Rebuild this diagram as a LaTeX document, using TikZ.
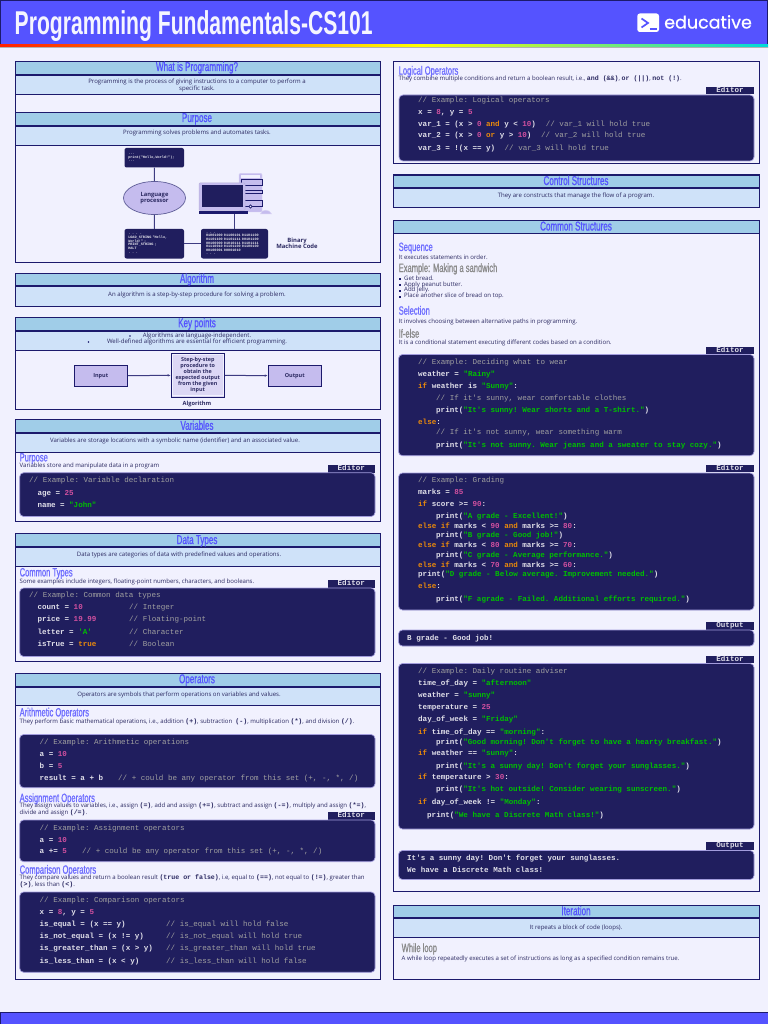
\documentclass[tikz,border=0pt]{standalone}
\usepackage{fontspec}
\usepackage{amsmath}
\setmainfont{Open Sans}
\setmonofont{Liberation Mono}
\newfontfamily\headfont[FakeStretch=0.63,FakeBold=0.9]{Liberation Sans}
\newfontfamily\bigfont[FakeStretch=0.64]{Liberation Sans}
\newfontfamily\logofont[FakeBold=0.5]{Poppins}
\usetikzlibrary{arrows.meta,shapes.geometric}
\definecolor{pagebg}{HTML}{F1F1FE}
\definecolor{headblue}{HTML}{5553FF}
\definecolor{navy}{HTML}{1C1A6C}
\definecolor{titleband}{HTML}{A0CDE8}
\definecolor{descband}{HTML}{CFE2F9}
\definecolor{codebg}{HTML}{201E5E}
\definecolor{codeedge}{HTML}{A29CDC}
\definecolor{lilac}{HTML}{C5BCEE}
\definecolor{bodyink}{HTML}{2C2A62}
\definecolor{greyhead}{HTML}{8A8A8A}
\definecolor{kwcol}{HTML}{E8890C}
\definecolor{numcol}{HTML}{D0509F}
\definecolor{strcol}{HTML}{00C000}
\definecolor{cmtcol}{HTML}{A0A0A0}
\newcommand{\kwd}[1]{\textcolor{kwcol}{#1}}
\newcommand{\nmb}[1]{\textcolor{numcol}{#1}}
\newcommand{\strg}[1]{\textcolor{strcol}{#1}}
\newcommand{\cmnt}[1]{\textcolor{cmtcol}{\mdseries #1}}
\newcommand{\cd}[1]{{\ttfamily\bfseries\fontsize{6.6}{5.3}\selectfont #1}}
\tikzset{
  panel/.style = {draw = navy, line width = 1pt, fill = pagebg},
  bandtitle/.style = {draw = navy, line width = 0.8pt, fill = titleband},
  banddesc/.style = {draw = navy, line width = 0.8pt, fill = descband},
  codebox/.style = {draw = codeedge, line width = 0.7pt, fill = codebg, rounded corners = 4pt},
  tabbox/.style = {draw = none, fill = codebg},
  paneltitle/.style = {font = \headfont\fontsize{12.8}{14}\selectfont, text = headblue, anchor = base, inner sep = 0pt, yshift = -4.5pt},
  subhead/.style = {font = \headfont\fontsize{12}{13}\selectfont, text = headblue!85!white, anchor = base west, inner sep = 0pt, yshift = -3.7pt},
  greyhd/.style = {subhead, text = greyhead},
  desc/.style = {font = \fontsize{6.05}{6}\selectfont, text = bodyink, anchor = base, inner sep = 0pt, yshift = -2pt},
  body/.style = {desc, anchor = base west},
  para/.style = {font = \fontsize{6.05}{5.3}\selectfont, text = bodyink, anchor = west, inner sep = 0pt, align = left},
  codeline/.style = {font = \ttfamily\bfseries\fontsize{7.55}{8}\selectfont, text = white!86!codebg, anchor = base west, inner sep = 0pt, yshift = -2pt},
  tablabel/.style = {codeline, anchor = base},
  tinybox/.style = {draw = none, fill = codebg, rounded corners = 2pt, font = \ttfamily\bfseries\fontsize{3.5}{3.65}\selectfont, text = white!90!codebg, align = left, inner sep = 0pt},
  flowbox/.style = {draw = navy, line width = 1pt, fill = lilac, font = \bfseries\fontsize{5.5}{6}\selectfont, text = bodyink, inner sep = 0pt, minimum width = 53pt, minimum height = 20.5pt},
  link/.style = {draw = navy!85!white, line width = 1pt},
  flowarrow/.style = {link, -{Latex[length = 3pt, width = 2.5pt]}},
  figtext/.style = {font = \bfseries\fontsize{5.9}{6}\selectfont, text = bodyink, align = center, inner sep = 0pt}
}
\begin{document}
\begin{tikzpicture}[x = 1pt, y = -1pt]
\useasboundingbox (0,0) rectangle (768,1024);
\fill [pagebg] (0,0) rectangle (768,1024);

\fill [headblue] (0,0) rectangle (768,44.5);
\draw [navy, line width = 1pt] (0.5,44.5) -- (0.5,0.5) -- (767.5,0.5) -- (767.5,44.5);
\fill [left color = red!75!orange, right color = yellow] (0,44.5) rectangle (420,47.3);
\fill [left color = yellow, right color = cyan!70!teal] (420,44.5) rectangle (768,47.3);
\draw [gray!60, line width = 0.6pt] (0,47.8) -- (768,47.8);
\node (maintitle) [font = \bigfont\bfseries\fontsize{33}{34}\selectfont, text = white!94!headblue, anchor = base west, inner sep = 0pt] at (14.5,35) {Programming Fundamentals-CS101};
\fill [white, rounded corners = 2.5pt] (637.3,13.5) rectangle (659,32);
\draw [headblue, line width = 1.7pt] (641.5,18.5) -- (648,23) -- (641.5,27.5);
\draw [headblue, line width = 1.5pt] (649.5,29) -- (656.5,29);
\node (logoword) [font = \logofont\fontsize{17.5}{20}\selectfont, text = white, anchor = base west, inner sep = 0pt] at (664,28.5) {educative};

\fill [headblue] (0,1012.5) rectangle (768,1024);
\draw [navy, line width = 0.8pt] (0.4,1024) -- (0.4,1012.5) -- (768,1012.5);

\draw [panel] (15,61.5) rectangle (380.5,262.5);
\draw [bandtitle] (15,61.5) rectangle (380.5,74);
\draw [banddesc] (15,75) rectangle (380.5,94.5);
\node (whattitle) [paneltitle] at (197,66.5) {What is Programming?};
\node (whatdesc) [desc, anchor = center, yshift = 0pt, align = center] at (197,83) {Programming is the process of giving instructions to a computer to perform a\\specific task.};
\draw [bandtitle] (15,112.5) rectangle (380.5,125);
\draw [banddesc] (15,126) rectangle (380.5,145.5);
\node (purptitle) [paneltitle] at (197,117.5) {Purpose};
\node (purpdesc) [desc] at (197,132.5) {Programming solves problems and automates tasks.};

\node (srcbox) [tinybox, minimum width = 59.5pt, minimum height = 19.5pt, text width = 52pt] at (154.25,157.75) {...\\print("Hello,World!");\\...};
\node (langproc) [ellipse, draw = navy!70!white, line width = 0.7pt, fill = lilac, minimum width = 62pt, minimum height = 33pt, inner sep = 0pt, font = \bfseries\fontsize{5.8}{6.6}\selectfont, text = bodyink, align = center] at (154.5,198) {Language\\processor};
\node (asmbox) [tinybox, minimum width = 59.5pt, minimum height = 29.5pt, text width = 52pt] at (154.25,243.75) {. . . .\\LOAD\_STRING "Hello,\\World!" ;\\PRINT\_STRING ;\\HALT\\. . .};
\node (binbox) [tinybox, minimum width = 67pt, minimum height = 29.5pt, text width = 57pt] at (234.5,243.75) {. . .\\01001000 01100101 01101100\\01101100 01101111 00101100\\00100000 01010111 01101111\\01110010 01101100 01100100\\00100001 00001010\\. . .};
\node (binlabel) [figtext] at (297,243.5) {Binary\\Machine Code};
\coordinate (pcfoot) at (234.5,214);
\draw [link] (srcbox) -- (langproc);
\draw [link] (langproc) -- (asmbox);
\draw [link] (asmbox) -- (binbox);
\draw [link] (pcfoot) -- (binbox);

\draw [fill = lilac, draw = lilac!70!white, rounded corners = 1pt] (239,173.5) rectangle (262,212);
\fill [pagebg] (241,175.5) rectangle (260,178);
\draw [navy, fill = lilac, line width = 0.7pt] (241.5,179) rectangle (262,185);
\draw [navy, fill = lilac, line width = 0.7pt] (244,190.5) rectangle (262,193);
\draw [navy, fill = lilac, line width = 0.7pt] (243,200) rectangle (262,206);
\draw [navy, fill = pagebg, line width = 0.7pt] (250.5,206.5) circle (1.6pt);
\draw [fill = lilac, draw = lilac!70!white, line width = 0.5pt] (260.5,214) .. controls (261,209) and (270,209) .. (271.5,214) -- cycle;
\draw [fill = lilac, draw = lilac!80!gray, rounded corners = 1pt, line width = 0.5pt] (199,183) rectangle (245,210.5);
\fill [codebg] (202,185) rectangle (243,207);
\fill [navy] (198.5,211.5) rectangle (248,214);
\fill [lilac] (217,208) rectangle (227,210.5);

\draw [panel] (15,273.3) rectangle (380.5,306);
\draw [bandtitle] (15,273.3) rectangle (380.5,285.7);
\draw [banddesc] (15,286.7) rectangle (380.5,306);
\node (algotitle) [paneltitle] at (197,278.3) {Algorithm};
\node (algodesc) [desc] at (197,294.5) {An algorithm is a step-by-step procedure for solving a problem.};

\draw [panel] (15,317.3) rectangle (380.5,409.3);
\draw [bandtitle] (15,317.3) rectangle (380.5,330);
\draw [banddesc] (15,331) rectangle (380.5,350.3);
\node (keytitle) [paneltitle] at (197,322.7) {Key points};
\node (keyone) [desc] at (197,335.3) {Algorithms are language-independent.};
\node (keytwo) [desc] at (197,341.3) {Well-defined algorithms are essential for efficient programming.};
\fill [navy] (130,336) circle (0.8pt);
\fill [navy] (88.5,342) circle (0.8pt);
\node (inputbox) [flowbox] at (100.75,375.75) {Input};
\node (stepbox) [flowbox, fill = lilac!60!white, minimum width = 53pt, minimum height = 43.5pt, align = center, font = \bfseries\fontsize{5.4}{6}\selectfont] at (197.75,375.25) {Step-by-step\\procedure to\\obtain the\\expected output\\from the given\\input};
\draw [pagebg, line width = 0.8pt] (172.2,354.7) rectangle (223.3,395.8);
\node (outputbox) [flowbox] at (294.75,375.75) {Output};
\node (algolabel) [desc, font = \bfseries\fontsize{5.7}{6}\selectfont] at (197,403) {Algorithm};
\draw [flowarrow] (inputbox) -- (stepbox);
\draw [flowarrow] (stepbox) -- (outputbox);

\draw [panel] (15,419.7) rectangle (380.5,521.3);
\draw [bandtitle] (15,419.7) rectangle (380.5,432.3);
\draw [banddesc] (15,433.3) rectangle (380.5,452);
\node (vartitle) [paneltitle] at (197,425.3) {Variables};
\node (vardesc) [desc] at (175,440) {Variables are storage locations with a symbolic name (identifier) and an associated value.};
\node (varhead) [subhead] at (19.5,457.7) {Purpose};
\node (vartext) [body] at (19.5,465.7) {Variables store and manipulate data in a program};
\draw [tabbox] (327.7,465.3) rectangle (375,472.7);
\node (vartab) [tablabel] at (351.3,468.7) {Editor};
\draw [codebox] (19.7,472.7) rectangle (375,516.5);
\node (varcode1) [codeline] at (29,480.3) {\cmnt{// Example: Variable declaration}};
\node (varcode2) [codeline] at (37.3,493) {age = \nmb{25}};
\node (varcode3) [codeline] at (37.3,505) {name = \strg{"John"}};

\draw [panel] (15,533.3) rectangle (380.5,661.3);
\draw [bandtitle] (15,533.3) rectangle (380.5,546);
\draw [banddesc] (15,547) rectangle (380.5,566.3);
\node (typetitle) [paneltitle] at (197,539.5) {Data Types};
\node (typedesc) [desc] at (179,554.7) {Data types are categories of data with predefined values and operations.};
\node (typehead) [subhead] at (19.5,572.7) {Common Types};
\node (typetext) [body] at (19.5,581.3) {Some examples include integers, floating-point numbers, characters, and booleans.};
\draw [tabbox] (327.7,579.5) rectangle (375,587.5);
\node (typetab) [tablabel] at (351.3,583.4) {Editor};
\draw [codebox] (19.7,588) rectangle (375,656.5);
\node (typecode1) [codeline] at (29,595.7) {\cmnt{// Example: Common data types}};
\node (typecode2) [codeline] at (37.3,607.5) {count = \nmb{10}};
\node (typecode3) [codeline] at (37.3,619.5) {price = \nmb{19.99}};
\node (typecode4) [codeline] at (37.3,632) {letter = \strg{'A'}};
\node (typecode5) [codeline] at (37.3,644.7) {isTrue = \kwd{true}};
\node (typenote2) [codeline] at (129,607.5) {\cmnt{// Integer}};
\node (typenote3) [codeline] at (129,619.5) {\cmnt{// Floating-point}};
\node (typenote4) [codeline] at (129,632) {\cmnt{// Character}};
\node (typenote5) [codeline] at (129,644.7) {\cmnt{// Boolean}};

\draw [panel] (15,673.3) rectangle (380.5,979.3);
\draw [bandtitle] (15,673.3) rectangle (380.5,686);
\draw [banddesc] (15,687) rectangle (380.5,705.3);
\node (optitle) [paneltitle] at (197,678.7) {Operators};
\node (opdesc) [desc] at (179,694) {Operators are symbols that perform operations on variables and values.};
\node (arithhead) [subhead] at (19.5,712.7) {Arithmetic Operators};
\node (arithtext) [body] at (19.5,721) {They perform basic mathematical operations, i.e., addition \cd{(+)}, subtraction \ \cd{(-)}, multiplication \cd{(*)}, and division \cd{(/)}.};
\draw [codebox] (19.7,734.5) rectangle (375,787.7);
\node (arithcode1) [codeline] at (39.5,742) {\cmnt{// Example: Arithmetic operations}};
\node (arithcode2) [codeline] at (39.5,754) {a = \nmb{10}};
\node (arithcode3) [codeline] at (39.5,766) {b = \nmb{5}};
\node (arithcode4) [codeline] at (39.5,778.7) {result = a + b};
\node (arithnote4) [codeline] at (118,778.7) {\cmnt{// + could be any operator from this set (+, -, *, /)}};
\node (assignhead) [subhead] at (19.5,798.3) {Assignment Operators};
\node (assigntext) [para] at (19.5,809.2) {They assign values to variables, i.e., assign \cd{(=)}, add and assign \cd{(+=)}, subtract and assign \cd{(-=)}, multiply and assign \cd{(*=)},\\divide and assign \cd{(/=)}.};
\draw [tabbox] (327.7,811.5) rectangle (375,819.5);
\node (assigntab) [tablabel] at (351.3,815.4) {Editor};
\draw [codebox] (19.7,820) rectangle (375,861.7);
\node (assigncode1) [codeline] at (39.5,828) {\cmnt{// Example: Assignment operators}};
\node (assigncode2) [codeline] at (39.5,840) {a = \nmb{10}};
\node (assigncode3) [codeline] at (39.5,851.7) {a += \nmb{5}};
\node (assignnote3) [codeline] at (82,851.7) {\cmnt{// + could be any operator from this set (+, -, *, /)}};
\node (comphead) [subhead] at (19.5,870) {Comparison Operators};
\node (comptext) [para] at (19.5,881.3) {They compare values and return a boolean result \cd{(true or false)}, i.e, equal to \cd{(==)}, not equal to \cd{(!=)}, greater than\\\cd{(>)}, less than \cd{(<)}.};
\draw [codebox] (19.7,892) rectangle (375,972.3);
\node (compcode1) [codeline] at (39.5,900) {\cmnt{// Example: Comparison operators}};
\node (compcode2) [codeline] at (39.5,912) {x = \nmb{8}, y = \nmb{5}};
\node (compcode3) [codeline] at (39.5,924.7) {is\_equal = (x == y)};
\node (compcode4) [codeline] at (39.5,936.3) {is\_not\_equal = (x != y)};
\node (compcode5) [codeline] at (39.5,948) {is\_greater\_than = (x > y)};
\node (compcode6) [codeline] at (39.5,961) {is\_less\_than = (x < y)};
\node (compnote3) [codeline] at (166,924.7) {\cmnt{// is\_equal will hold false}};
\node (compnote4) [codeline] at (166,936.3) {\cmnt{// is\_not\_equal will hold true}};
\node (compnote5) [codeline] at (166,948) {\cmnt{// is\_greater\_than will hold true}};
\node (compnote6) [codeline] at (166,961) {\cmnt{// is\_less\_than will hold false}};

\draw [panel] (393.5,61.5) rectangle (759.5,164);
\node (logichead) [subhead] at (398.5,71) {Logical Operators};
\node (logictext) [body] at (398.5,79) {They combine multiple conditions and return a boolean result, i.e., \cd{and (\&\&)}, \cd{or (||)}, \cd{not (!)}.};
\draw [tabbox] (706.3,87) rectangle (754,94.5);
\node (logictab) [tablabel] at (730,90.5) {Editor};
\draw [codebox] (399,95) rectangle (754,161);
\node (logiccode1) [codeline] at (418,100.7) {\cmnt{// Example: Logical operators}};
\node (logiccode2) [codeline] at (418,112.7) {x = \nmb{8}, y = \nmb{5}};
\node (logiccode3) [codeline] at (418,124.3) {var\_1 = (x > \nmb{0} \kwd{and} y < \nmb{10})};
\node (logiccode4) [codeline] at (418,136) {var\_2 = (x > \nmb{0} \kwd{or} y > \nmb{10})};
\node (logiccode5) [codeline] at (418,148.7) {var\_3 = !(x == y)};
\node (logicnote3) [codeline] at (545.7,124.3) {\cmnt{// var\_1 will hold true}};
\node (logicnote4) [codeline] at (541,136) {\cmnt{// var\_2 will hold true}};
\node (logicnote5) [codeline] at (504.5,148.7) {\cmnt{// var\_3 will hold true}};

\draw [panel] (393.5,175) rectangle (759.5,207.3);
\draw [bandtitle] (393.5,175) rectangle (759.5,187.3);
\draw [banddesc] (393.5,188.3) rectangle (759.5,207.3);
\node (ctrltitle) [paneltitle] at (576,180.5) {Control Structures};
\node (ctrldesc) [desc] at (576,196) {They are constructs that manage the flow of a program.};

\draw [panel] (393.5,220.5) rectangle (759.5,891);
\draw [bandtitle] (393.5,220.5) rectangle (759.5,233.5);
\node (commontitle) [paneltitle] at (576,226) {Common Structures};
\node (seqhead) [subhead] at (398.5,247.3) {Sequence};
\node (seqtext) [body] at (398.5,257.3) {It executes statements in order.};
\node (sandhead) [greyhd] at (398.5,268.3) {Example: Making a sandwich};
\node (sand1) [body] at (404,278.3) {Get bread.};
\node (sand2) [body] at (404,284.3) {Apply peanut butter.};
\node (sand3) [body] at (404,289.7) {Add jelly.};
\node (sand4) [body] at (404,295.7) {Place another slice of bread on top.};
\foreach \by in {279,285,291,297} \fill [navy] (399.3,\by-0.7) rectangle (400.7,\by+0.7);
\node (selhead) [subhead] at (398.5,311) {Selection};
\node (seltext) [body] at (398.5,321) {It involves choosing between alternative paths in programming.};
\node (ifhead) [greyhd] at (398.5,334) {If-else};
\node (iftext) [body] at (398.5,342.3) {It is a conditional statement executing different codes based on a condition.};
\draw [tabbox] (706.3,346.5) rectangle (754,353.8);
\node (weartab) [tablabel] at (730,350) {Editor};
\draw [codebox] (398.5,354.5) rectangle (754,455.7);
\node (wear1) [codeline] at (418,362.3) {\cmnt{// Example: Deciding what to wear}};
\node (wear2) [codeline] at (418,374.3) {weather = \strg{"Rainy"}};
\node (wear3) [codeline] at (418,386.3) {\kwd{if} weather is \strg{"Sunny"}:};
\node (wear4) [codeline] at (436,398) {\cmnt{// If it's sunny, wear comfortable clothes}};
\node (wear5) [codeline] at (436,410) {print(\strg{"It's sunny! Wear shorts and a T-shirt."})};
\node (wear6) [codeline] at (418,422.7) {\kwd{else}:};
\node (wear7) [codeline] at (436,432.7) {\cmnt{// If it's not sunny, wear something warm}};
\node (wear8) [codeline] at (436,445) {print(\strg{"It's not sunny. Wear jeans and a sweater to stay cozy."})};

\draw [tabbox] (706.3,465) rectangle (754,472.3);
\node (gradetab) [tablabel] at (730,468.5) {Editor};
\draw [codebox] (398.5,473) rectangle (754,610);
\node (grade1) [codeline] at (418,480) {\cmnt{// Example: Grading}};
\node (grade2) [codeline] at (418,492.3) {marks = \nmb{85}};
\node (grade3) [codeline] at (418,504.7) {\kwd{if} score >= \nmb{90}:};
\node (grade4) [codeline] at (436,516) {print(\strg{"A grade - Excellent!"})};
\node (grade5) [codeline] at (418,526.7) {\kwd{else if} marks < \nmb{90} \kwd{and} marks >= \nmb{80}:};
\node (grade6) [codeline] at (436,535.7) {print(\strg{"B grade - Good job!"})};
\node (grade7) [codeline] at (418,545) {\kwd{else if} marks < \nmb{80} \kwd{and} marks >= \nmb{70}:};
\node (grade8) [codeline] at (436,555) {print(\strg{"C grade - Average performance."})};
\node (grade9) [codeline] at (418,565) {\kwd{else if} marks < \nmb{70} \kwd{and} marks >= \nmb{60}:};
\node (grade10) [codeline] at (418,574.3) {print(\strg{"D grade - Below average. Improvement needed."})};
\node (grade11) [codeline] at (418,586.3) {\kwd{else}:};
\node (grade12) [codeline] at (436,599) {print(\strg{"F agrade - Failed. Additional efforts required."})};

\draw [tabbox] (706.3,622.3) rectangle (754,629.5);
\node (gradeouttab) [tablabel] at (730,625.8) {Output};
\draw [codebox] (398.5,630) rectangle (754,646);
\node (gradeout) [codeline] at (407,638) {B grade - Good job!};

\draw [tabbox] (706.3,655.7) rectangle (754,663);
\node (dailytab) [tablabel] at (730,659.2) {Editor};
\draw [codebox] (398.5,663.5) rectangle (754,829);
\node (daily1) [codeline] at (418,671) {\cmnt{// Example: Daily routine adviser}};
\node (daily2) [codeline] at (418,683.7) {time\_of\_day = \strg{"afternoon"}};
\node (daily3) [codeline] at (418,695.7) {weather = \strg{"sunny"}};
\node (daily4) [codeline] at (418,707.3) {temperature = \nmb{25}};
\node (daily5) [codeline] at (418,719.3) {day\_of\_week = \strg{"Friday"}};
\node (daily6) [codeline] at (418,732) {\kwd{if} time\_of\_day == \strg{"morning"}:};
\node (daily7) [codeline] at (436,742.3) {print(\strg{"Good morning! Don't forget to have a hearty breakfast."})};
\node (daily8) [codeline] at (418,753.3) {\kwd{if} weather == \strg{"sunny"}:};
\node (daily9) [codeline] at (436,766) {print(\strg{"It's a sunny day! Don't forget your sunglasses."})};
\node (daily10) [codeline] at (418,777) {\kwd{if} temperature > \nmb{30}:};
\node (daily11) [codeline] at (436,789.7) {print(\strg{"It's hot outside! Consider wearing sunscreen."})};
\node (daily12) [codeline] at (418,802.7) {\kwd{if} day\_of\_week != \strg{"Monday"}:};
\node (daily13) [codeline] at (427,815) {print(\strg{"We have a Discrete Math class!"})};

\draw [tabbox] (706.3,842.3) rectangle (754,850);
\node (dailyouttab) [tablabel] at (730,845.8) {Output};
\draw [codebox] (398.5,850.5) rectangle (754,879.5);
\node (dailyout1) [codeline] at (407,858.7) {It's a sunny day! Don't forget your sunglasses.};
\node (dailyout2) [codeline] at (407,870) {We have a Discrete Math class!};

\draw [panel] (393.5,905.7) rectangle (759.5,979.3);
\draw [bandtitle] (393.5,905.7) rectangle (759.5,917.3);
\draw [banddesc] (393.5,918.3) rectangle (759.5,937.7);
\node (itertitle) [paneltitle] at (576,910.7) {Iteration};
\node (iterdesc) [desc] at (576,927) {It repeats a block of code (loops).};
\node (whilehead) [greyhd] at (401.5,948.3) {While loop};
\node (whiletext) [body] at (401.5,958) {A while loop repeatedly executes a set of instructions as long as a specified condition remains true.};
\end{tikzpicture}
\end{document}
